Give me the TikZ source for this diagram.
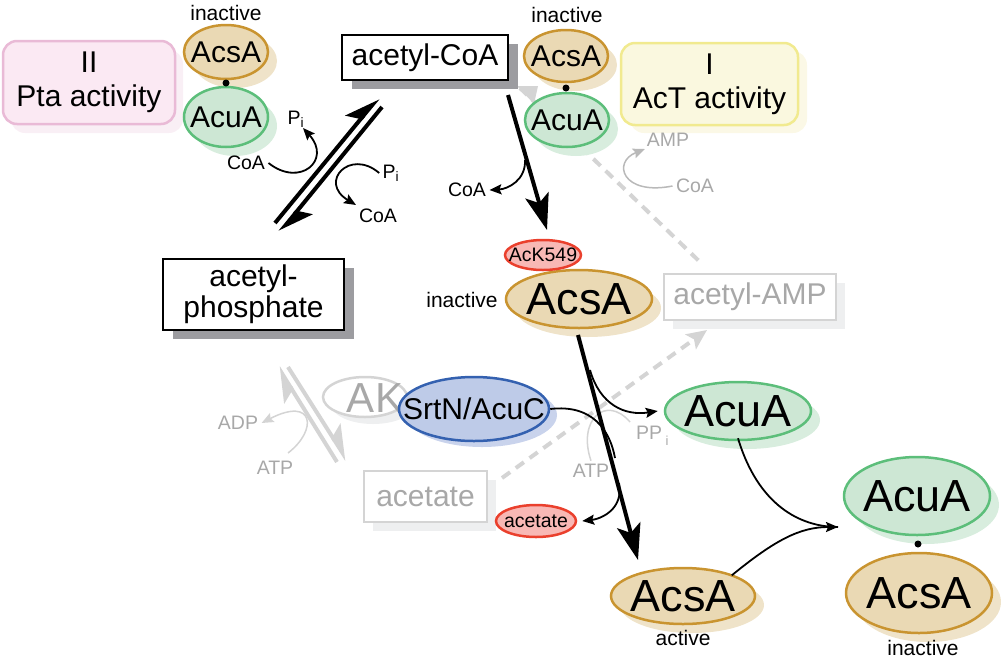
\documentclass[tikz,border=0pt]{standalone}
\usepackage{fontspec}
\setmainfont{Liberation Sans}
\usetikzlibrary{shapes.geometric,arrows.meta,shadows}
\definecolor{tanF}{HTML}{EAD9B4}
\definecolor{tanD}{HTML}{C99430}
\definecolor{tanS}{HTML}{EFE3C9}
\definecolor{grnF}{HTML}{CDE7D4}
\definecolor{grnD}{HTML}{5CBE7A}
\definecolor{grnS}{HTML}{D8EDDE}
\definecolor{bluF}{HTML}{BECBE8}
\definecolor{bluD}{HTML}{3461B0}
\definecolor{bluS}{HTML}{C9D3EC}
\definecolor{redF}{HTML}{F8B8B5}
\definecolor{redD}{HTML}{EA402D}
\definecolor{pinkF}{HTML}{FBE9F3}
\definecolor{pinkD}{HTML}{E9BAD6}
\definecolor{pinkS}{HTML}{F9EFF5}
\definecolor{yelF}{HTML}{FAF8DF}
\definecolor{yelD}{HTML}{F1EA8F}
\definecolor{yelS}{HTML}{FBF8E6}
\definecolor{shGray}{HTML}{9C9CA0}
\definecolor{ltGray}{HTML}{D4D4D4}
\definecolor{txGray}{HTML}{A8A8A8}
\definecolor{ltShadow}{HTML}{EEEFF0}
\begin{document}
\begin{tikzpicture}[x=1pt,y=-1pt,
  fL/.style={font=\fontsize{45}{50}\selectfont},
  fM/.style={font=\fontsize{30}{34}\selectfont},
  fS/.style={font=\fontsize{19.5}{22}\selectfont},
  fI/.style={font=\fontsize{21}{24}\selectfont},
  ell/.style={ellipse, inner sep=0pt, line width=2.5pt},
  acs/.style={ell, draw=tanD, fill=tanF, drop shadow={shadow xshift=9pt, shadow yshift=-9pt, fill=tanS, opacity=1}},
  acu/.style={ell, draw=grnD, fill=grnF, drop shadow={shadow xshift=9pt, shadow yshift=-9pt, fill=grnS, opacity=1}},
  redell/.style={ell, draw=redD, fill=redF},
  blkbox/.style={draw=black, line width=2.5pt, fill=white, inner sep=0pt, fM, align=center,
     drop shadow={shadow xshift=10pt, shadow yshift=-9pt, fill=shGray, opacity=1}},
  grybox/.style={draw=ltGray, line width=2.5pt, fill=white, inner sep=0pt, fM, text=txGray,
     drop shadow={shadow xshift=9pt, shadow yshift=-9pt, fill=ltShadow, opacity=1}},
  actbox/.style={rounded corners=14pt, line width=2.5pt, inner sep=0pt, fM, align=center},
  bigarrow/.style={line width=4pt, -{Stealth[length=36pt, width=24pt, inset=8pt]}},
  harp/.style={line width=4pt, -{Stealth[harpoon, length=30pt, width=28pt, inset=7pt]}},
  sm/.style={line width=1.8pt, -{Stealth[length=12pt, width=10pt, inset=2pt]}},
  gsm/.style={sm, draw=txGray!80},
  dsh/.style={draw=ltGray, line width=4pt, dash pattern=on 10pt off 7pt},
  dotn/.style={circle, fill=black, inner sep=0pt, minimum size=7pt}
]
\useasboundingbox (0,0) rectangle (1001,662);

% ---- background dashed lines
\coordinate (dA) at (520,88);
\coordinate (dB) at (700,262);
\fill[ltGray] (517,86) -- (538,86) -- (534,104) -- cycle;
\draw[dsh] (dA) -- (dB);
\coordinate (dC) at (502,478);
\coordinate (dD) at (707,330);
\draw[dsh, -{Stealth[length=20pt, width=18pt, inset=4pt]}] (dC) -- (dD);

% ---- activity boxes
\node[actbox, draw=pinkD, fill=pinkF, minimum width=172pt, minimum height=83pt,
  drop shadow={shadow xshift=8pt, shadow yshift=-9pt, fill=pinkS, opacity=1}]
  (pta) at (89,82.5) {II\\Pta activity};
\node[actbox, draw=yelD, fill=yelF, minimum width=177pt, minimum height=82pt,
  drop shadow={shadow xshift=9pt, shadow yshift=-8pt, fill=yelS, opacity=1}]
  (act) at (709.5,84) {I\\AcT activity};

% ---- top left complex
\node[acs, minimum width=84pt, minimum height=54pt, label={[fM]center:AcsA}] (tlAcs) at (226,52) {};
\node[acu, minimum width=84pt, minimum height=60pt, label={[fM]center:AcuA}] (tlAcu) at (226,117) {};
\node[dotn] (tlDot) at (226,83) {};
\node[fI] (tlIn) at (226,13) {inactive};

% ---- top right complex
\node[acs, minimum width=84pt, minimum height=52pt, label={[fM]center:AcsA}] (trAcs) at (566,56) {};
\node[acu, minimum width=84pt, minimum height=54pt, label={[fM]center:AcuA}] (trAcu) at (567,120) {};
\node[dotn] (trDot) at (566,88) {};
\node[fI] (trIn) at (567,15) {inactive};

% ---- metabolite boxes
\node[blkbox, minimum width=166pt, minimum height=45pt] (acoa) at (425,57.5) {acetyl-CoA};
\node[blkbox, minimum width=181pt, minimum height=71pt, font=\fontsize{30}{31}\selectfont] (acp) at (253.5,294.5) {acetyl-\\phosphate};
\node[grybox, minimum width=172pt, minimum height=46pt] (aamp) at (750,297) {acetyl-AMP};
\node[grybox, minimum width=123pt, minimum height=51pt] (acet) at (425.5,496.5) {acetate};

% ---- AMP / CoA grey reaction
\node[fS, text=txGray] (amp) at (668,140) {AMP};
\node[fS, text=txGray] (coaG) at (695,186) {CoA};
\draw[gsm, line width=1.5pt] (coaG.west) .. controls (622,196) and (612,162) .. (645,149);

% ---- reversible Pta arrows
\coordinate (r1s) at (275,223);
\coordinate (r1e) at (378,98);
\coordinate (r2s) at (382,107);
\coordinate (r2e) at (280,232);
\draw[harp] (r1s) -- (r1e);
\draw[harp] (r2s) -- (r2e);
\node[fS] (piL) at (296,119) {P\textsubscript{i}};
\node[fS] (coaL) at (246,163) {CoA};
\node[fS] (piR) at (391,173) {P\textsubscript{i}};
\node[fS] (coaR) at (378,216) {CoA};
\draw[sm] (coaL.east) .. controls (300,188) and (332,160) .. (303,128);
\draw[sm] (piR.west) .. controls (350,148) and (318,182) .. (356,205);

% ---- AK reversible (grey)
\coordinate (g1s) at (337,462);
\coordinate (g1e) at (278,367);
\coordinate (g2s) at (288,367);
\coordinate (g2e) at (347,460);
\draw[harp, draw=ltGray] (g1s) -- (g1e);
\draw[harp, draw=ltGray] (g2s) -- (g2e);
\node[fS, text=txGray] (adp) at (238,423) {ADP};
\node[fS, text=txGray] (atpL) at (275,468) {ATP};
\draw[gsm, draw=ltGray, line width=1.5pt] (288,453) .. controls (318,430) and (314,396) .. (adp.east);

% ---- AK and SrtN/AcuC
\node[ell, draw=ltGray, fill=white, minimum width=84pt, minimum height=40pt,
  drop shadow={shadow xshift=8pt, shadow yshift=-7pt, fill=ltShadow, opacity=1}] (ak) at (365,397) {};
\node[font=\fontsize{42}{46}\selectfont, text=txGray] (akT) at (375,398) {AK};
\node[ell, draw=bluD, fill=bluF, minimum width=150pt, minimum height=64pt, label={[fM]center:SrtN/AcuC},
  drop shadow={shadow xshift=8pt, shadow yshift=-6pt, fill=bluS, opacity=1}] (srt) at (474,409) {};

% ---- main AcsA
\node[acs, minimum width=146pt, minimum height=58pt, label={[fL]center:AcsA}] (mAcs) at (579,299) {};
\node[redell, minimum width=76pt, minimum height=30pt, label={[fS]center:AcK549}] (ack) at (543,255) {};
\node[fI] (mIn) at (462,300) {inactive};

% ---- first main arrow
\coordinate (m1s) at (508,95);
\coordinate (m1e) at (547,230);
\draw[bigarrow] (m1s) -- (m1e);
\node[fS] (coaM) at (467,190) {CoA};
\draw[sm] (525,160) .. controls (526,180) and (508,189) .. (coaM.east);

% ---- AcuA middle
\node[acu, minimum width=146pt, minimum height=58pt, label={[fL]center:AcuA}] (mAcu) at (738,411) {};

% ---- grey ATP / PPi
\node[fS, text=txGray] (atpR) at (591,471) {ATP};
\node[fS, text=txGray] (ppi) at (649,433) {PP};
\node[font=\fontsize{13}{14}\selectfont, text=txGray] (ppiI) at (667,441) {i};
\draw[ltGray, line width=1.5pt] (atpR.north) .. controls (577,420) and (606,394) .. (630,422);

% ---- active AcsA
\node[acs, minimum width=144pt, minimum height=56pt, label={[fL]center:AcsA}] (actAcs) at (683,596) {};
\node[fI] (actL) at (683,638) {active};

% ---- second main arrow and side arrows
\coordinate (m2s) at (578,335);
\coordinate (m2e) at (638,560);
\draw[sm] (590,370) .. controls (600,405) and (625,416) .. ([xshift=-6pt]mAcu.west);
\draw[line width=1.8pt] (srt.east) .. controls (592,404) and (610,430) .. (615,458);
\node[redell, minimum width=80pt, minimum height=32pt, label={[fS]center:acetate}] (racet) at (536,521) {};
\draw[sm] (619,483) .. controls (624,510) and (600,519) .. ([xshift=5pt]racet.east);
\draw[bigarrow] (m2s) -- (m2e);

% ---- right complex
\node[acu, minimum width=146pt, minimum height=78pt, label={[fL]center:AcuA}] (rAcu) at (917,496) {};
\node[acs, minimum width=146pt, minimum height=80pt, label={[fL]center:AcsA}] (rAcs) at (919,593) {};
\node[dotn] (rDot) at (918,544) {};
\node[fI] (rIn) at (923,648) {inactive};

\coordinate (conv) at (838,527);
\draw[line width=1.8pt] ([yshift=3pt]mAcu.south) .. controls (758,505) and (800,527) .. (conv);
\draw[sm] ([xshift=-3pt]actAcs.north east) .. controls (775,540) and (800,527) .. (conv);
\end{tikzpicture}
\end{document}
